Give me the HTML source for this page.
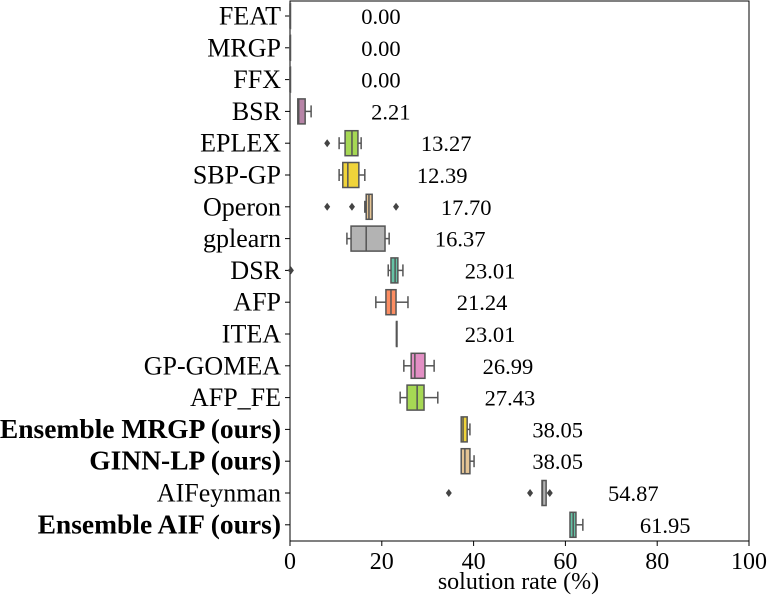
<!DOCTYPE html>
<html><head><meta charset="utf-8"><style>
body{margin:0;background:#fff;}
svg text{font-family:"Liberation Serif",serif;fill:#000;}
</style></head><body>
<svg id="chart" width="771" height="605" xmlns="http://www.w3.org/2000/svg"></svg>
<script>
const methods=["FEAT","MRGP","FFX","BSR","EPLEX","SBP-GP","Operon","gplearn","DSR","AFP","ITEA","GP-GOMEA","AFP_FE","Ensemble MRGP (ours)","GINN-LP (ours)","AIFeynman","Ensemble AIF (ours)"];
const boldFlags=[0,0,0,0,0,0,0,0,0,0,0,0,0,1,1,0,1];
const whiskLo=[0,0,0,1.7,10.7,10.7,16.3,12.4,21.4,18.7,23.2,24.8,24.0,37.3,37.3,54.9,61.0];
const q1=[0,0,0,1.7,12.0,11.5,16.6,13.3,22.0,20.9,23.2,26.4,25.5,37.3,37.3,54.9,61.0];
const med=[0,0,0,1.9,13.5,12.6,17.2,16.6,22.9,22.0,23.2,27.2,27.7,37.7,38.1,55.0,61.7];
const q3=[0,0,0,3.3,14.8,15.0,17.9,20.7,23.5,23.1,23.2,29.4,29.2,38.6,39.2,55.8,62.3];
const whiskHi=[0,0,0,4.6,15.5,16.3,17.9,21.6,24.6,25.7,23.2,31.4,32.2,39.2,40.1,55.8,63.8];
const outliers=[[],[],[],[],[8.1],[],[8.1,13.5,23.1],[],[0.2],[],[],[],[],[],[],[34.6,52.3,56.6],[]];
const meanLabels=["0.00","0.00","0.00","2.21","13.27","12.39","17.70","16.37","23.01","21.24","23.01","26.99","27.43","38.05","38.05","54.87","61.95"];
const xTicks=[0,20,40,60,80,100];
const colors=["#66c2a5","#fc8d62","#8da0cb","#b784a7","#a6d854","#f0d43a","#e5c494","#b3b3b3","#66c2a5","#fc8d62","#8da0cb","#e28fc4","#a6d854","#f0d43a","#e5c494","#b3b3b3","#66c2a5"];

const svg=document.getElementById('chart');
const NS="http://www.w3.org/2000/svg";
const L=290,R=749,T=1,B=541;
const x=v=>L+(R-L)*v/100;
const y=i=>16+i*31.8;
function mk(tag,attrs,parent){const e=document.createElementNS(NS,tag);for(const k in attrs)e.setAttribute(k,attrs[k]);(parent||svg).appendChild(e);return e;}

const frame=mk('rect',{x:L,y:T,width:R-L,height:B-T,fill:'none',stroke:'#000','stroke-width':1});



xTicks.forEach(t=>{
  const ln=mk('line',{x1:x(t),x2:x(t),y1:B,y2:B+5,stroke:'#000'});
  
  
  const tx=mk('text',{x:x(t),y:B+28,'text-anchor':'middle','font-size':24});
  tx.textContent=t;
  
  
});
const xt=mk('text',{x:x(50)-1,y:B+48,'text-anchor':'middle','font-size':24});
xt.textContent='solution rate (%)';



methods.forEach((m,i)=>{
  const cy=y(i);
  const g=mk('g',{});
  
  
  mk('line',{x1:L-5,x2:L,y1:cy,y2:cy,stroke:'#000'},g);
  const lb=mk('text',{x:281,y:cy+8.5,'text-anchor':'end','font-size':boldFlags[i]?27.5:26,'font-weight':boldFlags[i]?'bold':'normal'},svg);
  lb.textContent=m;
  
  
  const h=25, st='#555';
  mk('line',{x1:x(whiskLo[i]),x2:x(q1[i]),y1:cy,y2:cy,stroke:st,'stroke-width':1.5},g);
  mk('line',{x1:x(q3[i]),x2:x(whiskHi[i]),y1:cy,y2:cy,stroke:st,'stroke-width':1.5},g);
  if(whiskHi[i]>q3[i]) mk('line',{x1:x(whiskHi[i]),x2:x(whiskHi[i]),y1:cy-6,y2:cy+6,stroke:st,'stroke-width':1.5},g);
  if(whiskLo[i]<q1[i]) mk('line',{x1:x(whiskLo[i]),x2:x(whiskLo[i]),y1:cy-6,y2:cy+6,stroke:st,'stroke-width':1.5},g);
  mk('rect',{x:x(q1[i]),y:cy-h/2,width:Math.max(x(q3[i])-x(q1[i]),0.5),height:h,fill:colors[i],stroke:st,'stroke-width':1.5},g);
  mk('line',{x1:x(med[i]),x2:x(med[i]),y1:cy-h/2,y2:cy+h/2,stroke:st,'stroke-width':1.5},g);
  outliers[i].forEach(o=>{
    const d=mk('path',{d:`M${x(o)},${cy-4} L${x(o)+3},${cy} L${x(o)},${cy+4} L${x(o)-3},${cy} Z`,fill:'#444'},g);
    
    
  });
  const v=parseFloat(meanLabels[i]);
  const vt=mk('text',{x:x(v)*0.98+77,y:cy+8,'font-size':22.5});
  vt.textContent=meanLabels[i];
  
  
});
</script>
</body></html>
